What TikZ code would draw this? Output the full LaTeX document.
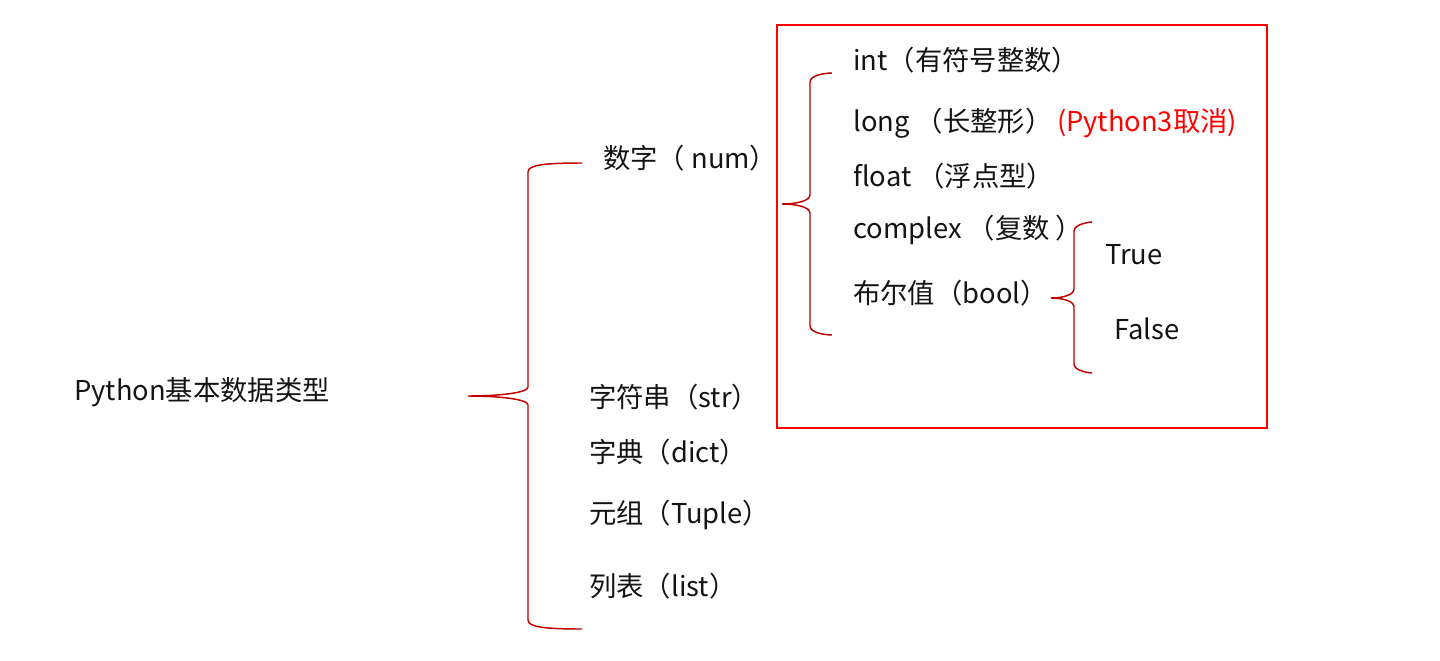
\documentclass[tikz,border=0pt]{standalone}
\usepackage{fontspec}
\setmainfont{Noto Sans CJK SC}
\usetikzlibrary{calc}
\definecolor{bracered}{RGB}{192,0,0}
\definecolor{boxred}{RGB}{255,0,0}
\definecolor{textdark}{RGB}{20,20,20}
\tikzset{
  item/.style={anchor=west, inner sep=0pt, text=textdark},
  bracelin/.style={draw=bracered, line width=1.1pt},
}
% brace from tip #1 to ends #2 (top) and #3 (bottom), spine #4 right of the tip
\newcommand{\drawbrace}[4]{%
  \draw [bracelin] (#2) .. controls ($(#1 |- #2)+(#4+16,0)$) and ($(#1 |- #2)+(#4,2)$) .. ($(#1 |- #2)+(#4,9)$)
    -- ($(#1)+(#4,-9)$) .. controls ($(#1)+(#4,-3)$) and ($(#1)+(#4/2,0)$) .. (#1)
    .. controls ($(#1)+(#4/2,0)$) and ($(#1)+(#4,3)$) .. ($(#1)+(#4,9)$)
    -- ($(#1 |- #3)+(#4,-9)$) .. controls ($(#1 |- #3)+(#4,-2)$) and ($(#1 |- #3)+(#4+16,0)$) .. (#3);%
}
\begin{document}
\begin{tikzpicture}[x=0.75pt, y=-0.75pt]
                \useasboundingbox (0,0) rectangle (1440,661);
                {\fontsize{20.5}{24}\selectfont

                % Marking root
                \node [item] (root) at (74.000000,392.000000) {Python基本数据类型};

                % Marking second level
                \node [item] (num) at (603.000000,158.000000) {数字（ num）};
                \node [item] (str) at (589.000000,397.000000) {字符串（str）};
                \node [item] (dict) at (589.000000,452.000000) {字典（dict）};
                \node [item] (tuple) at (589.000000,515.000000) {元组（Tuple）};
                \node [item] (list) at (589.000000,586.000000) {列表（list）};

                % Marking number kinds
                \node [item] (int) at (853.000000,60.000000) {int（有符号整数）};
                \node [item] (long) at (853.000000,123.000000) {long （长整形）\,\textcolor{boxred}{(Python3取消)}};
                \node [item] (float) at (853.000000,176.000000) {float （浮点型）};
                \node [item] (complex) at (853.000000,230.000000) {complex （复数 ）};
                \node [item] (bool) at (853.000000,293.000000) {布尔值（bool）};

                % Marking bool values
                \node [item] (true) at (1105.000000,255.000000) {True};
                \node [item] (false) at (1114.000000,329.000000) {False};

                % Drawing brace root -> num ... list
                \coordinate (rootTip) at (468.000000,396.000000);
                \coordinate (rootTop) at (582.000000,163.000000);
                \coordinate (rootBot) at (582.000000,629.000000);
                \drawbrace{rootTip}{rootTop}{rootBot}{60}

                % Drawing brace num -> int ... bool
                \coordinate (numTip) at (782.000000,204.000000);
                \coordinate (numTop) at (832.000000,73.000000);
                \coordinate (numBot) at (832.000000,335.000000);
                \drawbrace{numTip}{numTop}{numBot}{28}

                % Drawing brace bool -> True False
                \coordinate (boolTip) at (1051.000000,298.000000);
                \coordinate (boolTop) at (1092.000000,222.000000);
                \coordinate (boolBot) at (1092.000000,373.000000);
                \drawbrace{boolTip}{boolTop}{boolBot}{23}

                % Drawing frame round the number kinds
                \draw [draw=boxred, line width=2.2pt] (777.000000,25.000000) rectangle (1267.000000,428.000000);
                }
\end{tikzpicture}
\end{document}
